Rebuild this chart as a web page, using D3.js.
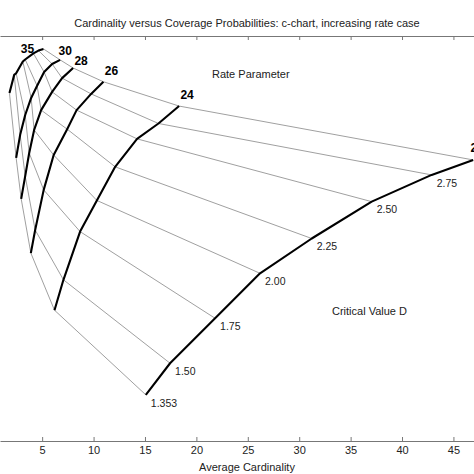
<!DOCTYPE html>
<html>
<head>
<meta charset="utf-8">
<script src="https://cdn.jsdelivr.net/npm/d3@7"></script>
<style>
  body { margin: 0; background: #fff; }
  svg { display: block; font-family: "Liberation Sans", Arial, sans-serif; }
</style>
</head>
<body>
<svg width="474" height="474"></svg>
<script>
const xTicks = [5, 10, 15, 20, 25, 30, 35, 40, 45];
const criticalValues = [35, 30, 28, 26, 24, 22];
const rates = [1.353, 1.50, 1.75, 2.00, 2.25, 2.50, 2.75, 3.00];
// the top rate line is not labelled in the original
const rateLabels = ['1.353', '1.50', '1.75', '2.00', '2.25', '2.50', '2.75', ''];

// average cardinality / coverage per critical value D, one entry per rate
const card35 = [1.82, 2.28, 2.47, 3.12, 3.35, 4.15, 4.64, 5.13];
const cover35 = [0.859, 0.904, 0.908, 0.937, 0.942, 0.957, 0.964, 0.968];
const card30 = [2.47, 2.86, 3.35, 3.93, 4.51, 5.19, 5.97, 6.75];
const cover30 = [0.699, 0.756, 0.805, 0.847, 0.877, 0.911, 0.931, 0.941];
const card28 = [2.96, 3.35, 3.74, 4.22, 4.90, 5.97, 6.94, 8.01];
const cover28 = [0.598, 0.654, 0.711, 0.768, 0.817, 0.862, 0.896, 0.921];
const card26 = [3.90, 4.32, 5.15, 6.12, 7.43, 8.35, 9.76, 10.96];
const cover26 = [0.464, 0.521, 0.620, 0.706, 0.770, 0.817, 0.857, 0.887];
const card24 = [6.20, 7.07, 8.69, 10.32, 12.10, 14.23, 16.31, 18.32];
const cover24 = [0.323, 0.398, 0.517, 0.594, 0.677, 0.746, 0.784, 0.827];
const card22 = [15.08, 17.44, 21.82, 26.19, 31.22, 37.05, 42.88, 46.92];
const cover22 = [0.114, 0.192, 0.303, 0.414, 0.500, 0.591, 0.657, 0.694];

const cards = [card35, card30, card28, card26, card24, card22];
const covers = [cover35, cover30, cover28, cover26, cover24, cover22];

// label nudges for the D labels (pixels from the top end of each curve)
const dLabelOffset = [[-16, 1], [5, -8], [8, -6], [8, -10], [8, -10], [4, -11]];

const width = 474, height = 474;
const font = '"Liberation Sans", Arial, sans-serif';

const x = d3.scaleLinear([0.9, 47], [0, width]);
const y = d3.scaleLinear([0, 1], [441, 36]);

const curves = criticalValues.map((D, i) => ({
  D,
  points: rates.map((r, j) => ({ rate: r, card: cards[i][j], cover: covers[i][j] })),
}));
const rateLines = rates.map((r, j) => ({
  rate: r,
  points: criticalValues.map((D, i) => ({ D, card: cards[i][j], cover: covers[i][j] })),
}));

const line = d3.line()
  .x((d) => x(d.card))
  .y((d) => y(d.cover));

const svg = d3.select('svg');

svg.append('text')
  .text('Cardinality versus Coverage Probabilities: c-chart, increasing rate case')
  .attr('x', 247)
  .attr('y', 27)
  .attr('text-anchor', 'middle')
  .style('font-size', '11px')
  .attr('fill', '#222');

// axes
const xAxis = d3.axisBottom(x)
  .tickValues(xTicks)
  .tickSizeInner(-4)
  .tickSizeOuter(0)
  .tickPadding(5);
const topAxis = d3.axisTop(x)
  .tickValues(xTicks)
  .tickSizeInner(-4)
  .tickSizeOuter(0)
  .tickFormat('');

const gx = svg.append('g')
  .attr('transform', `translate(0, ${y(0)})`)
  .call(xAxis);
gx.selectAll('text')
  .style('font-family', font)
  .style('font-size', '11px')
  .attr('fill', '#222');

svg.append('g')
  .attr('transform', `translate(0, ${y(1)})`)
  .call(topAxis);

svg.selectAll('.domain, .tick line')
  .attr('stroke', '#777');

// thin rate lines
svg.append('g')
  .selectAll('path')
  .data(rateLines)
  .join('path')
    .attr('d', (d) => line(d.points))
    .attr('fill', 'none')
    .attr('stroke', '#a0a0a0')
    .attr('stroke-width', 1);

// thick critical value curves
svg.append('g')
  .selectAll('path')
  .data(curves)
  .join('path')
    .attr('d', (d) => line(d.points))
    .attr('fill', 'none')
    .attr('stroke', '#000')
    .attr('stroke-width', 2.1)
    .attr('stroke-linejoin', 'round');

svg.append('g')
  .selectAll('text')
  .data(curves)
  .join('text')
    .text((d) => d.D)
    .attr('x', (d, i) => x(d.points[d.points.length - 1].card) + dLabelOffset[i][0])
    .attr('y', (d, i) => y(d.points[d.points.length - 1].cover) + dLabelOffset[i][1])
    .attr('text-anchor', 'middle')
    .attr('dominant-baseline', 'middle')
    .style('font-size', '12px')
    .style('font-weight', 'bold');

// rate labels along the D = 22 curve
const last = curves[curves.length - 1];
svg.append('g')
  .selectAll('text')
  .data(last.points.filter((d, j) => rateLabels[j] !== ''))
  .join('text')
    .text((d, j) => rateLabels[j])
    .attr('x', (d) => x(d.card) + 5)
    .attr('y', (d) => y(d.cover) + 9)
    .attr('dominant-baseline', 'middle')
    .style('font-size', '10.5px')
    .attr('fill', '#222');

svg.append('text')
  .text('Rate Parameter')
  .attr('x', 212)
  .attr('y', 75)
  .attr('dominant-baseline', 'middle')
  .style('font-size', '11px')
  .attr('fill', '#222');

svg.append('text')
  .text('Critical Value D')
  .attr('x', 332)
  .attr('y', 312)
  .attr('dominant-baseline', 'middle')
  .style('font-size', '11px')
  .attr('fill', '#222');

svg.append('text')
  .text('Average Cardinality')
  .attr('x', 247)
  .attr('y', 468)
  .attr('text-anchor', 'middle')
  .attr('dominant-baseline', 'middle')
  .style('font-size', '11px')
  .attr('fill', '#222');
</script>
</body>
</html>
